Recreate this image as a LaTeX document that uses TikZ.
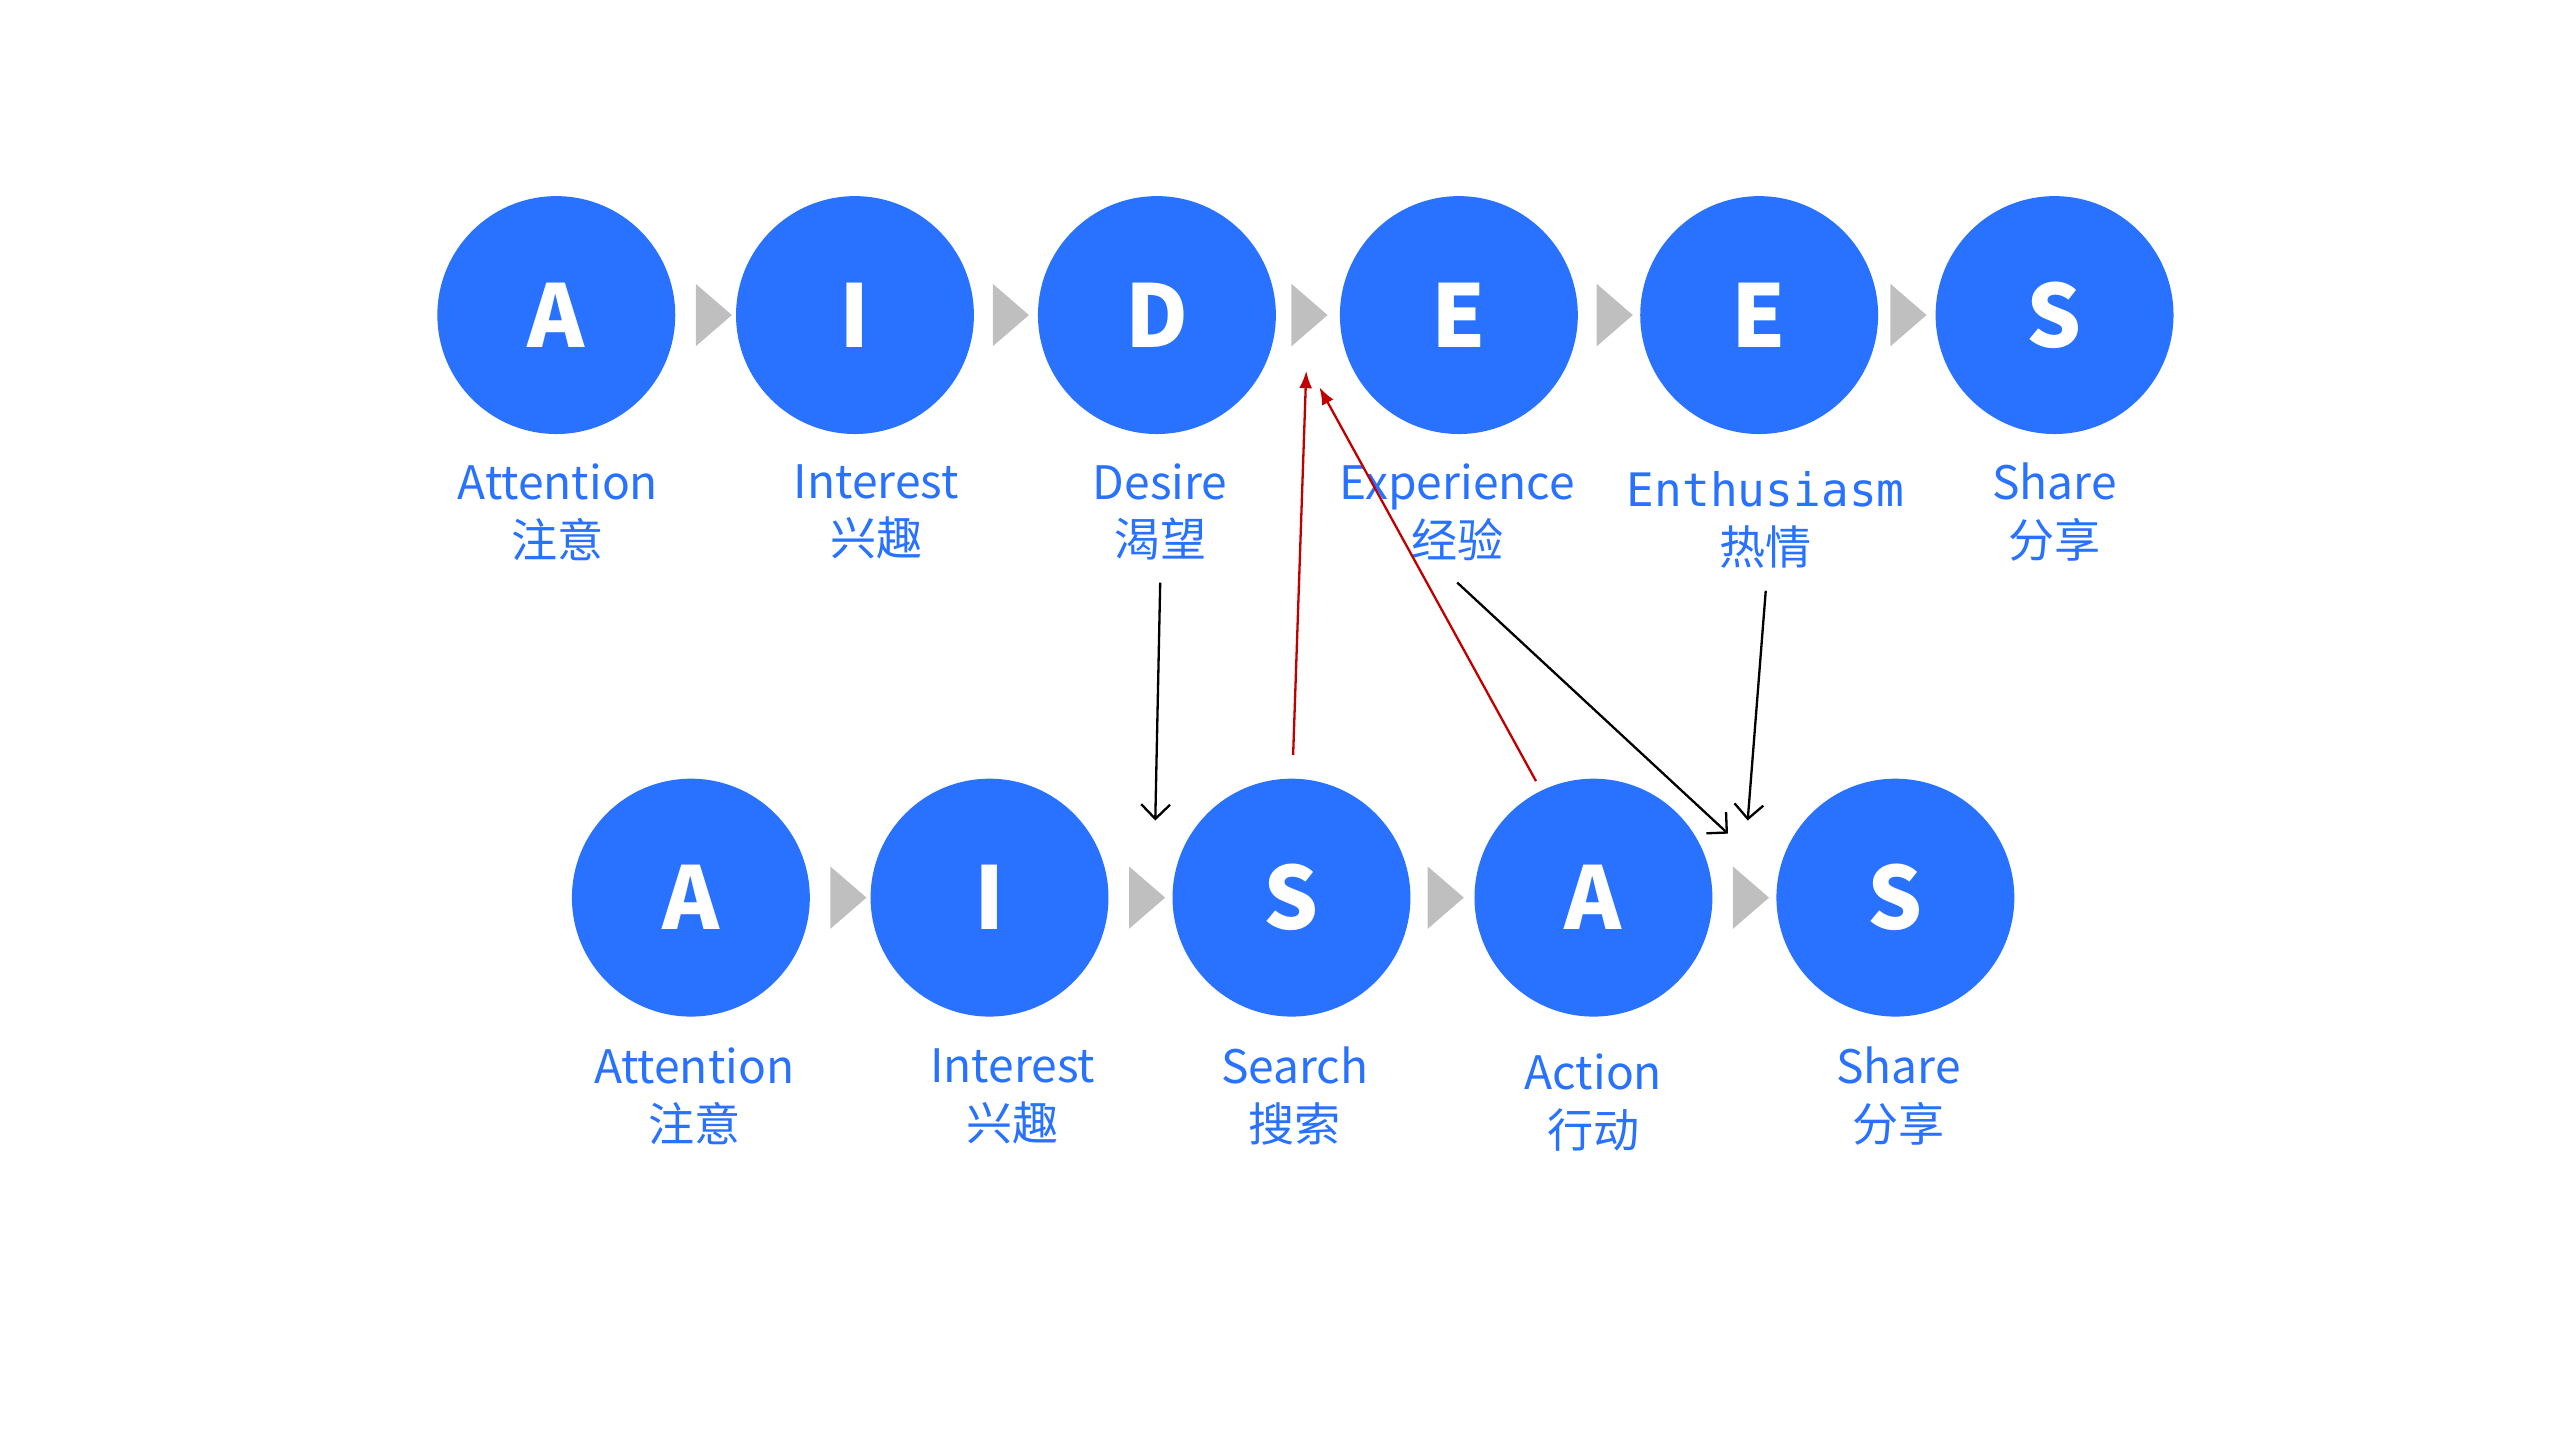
\documentclass[tikz,border=0pt]{standalone}
\usepackage{fontspec}
\setmainfont{Noto Sans CJK SC}
\newfontfamily\monof{DejaVu Sans Mono}
\usetikzlibrary{arrows.meta}
\definecolor{bl}{HTML}{2872FF}
\definecolor{gr}{HTML}{BFBFBF}
\definecolor{rd}{HTML}{C00000}
\begin{document}
\begin{tikzpicture}[x=0.02cm,y=-0.02cm,
  circ/.style={circle,fill=bl,minimum size=2.9cm,inner sep=0pt,text=white,font=\bfseries\fontsize{30}{30}\selectfont},
  lbl/.style={text=bl,align=center,font=\fontsize{16}{20}\selectfont},
  tri/.style={fill=gr,draw=none},
  blk/.style={-{Straight Barb[length=5pt]},thick,black},
  red/.style={-{Latex[length=6pt]},thick,rd}]
\useasboundingbox (0,0) rectangle (1560,878);
\foreach \x/\t/\n in {339/A/t1,521/I/t2,705/D/t3,889/E/t4,1072/E/t5,1252/S/t6}
  \node[circ] (\n) at (\x,192) {\t};
\foreach \x/\t/\n in {421/A/b1,603/I/b2,787/S/b3,971/A/b4,1155/S/b5}
  \node[circ] (\n) at (\x,547) {\t};
\foreach \x in {434,615,797,983,1162}
  \fill[tri] (\x-10,173) -- (\x+12,192) -- (\x-10,211) -- cycle;
\foreach \x in {516,698,880,1066}
  \fill[tri] (\x-10,528) -- (\x+12,547) -- (\x-10,566) -- cycle;
\node[lbl] (l1) at (340,312) {Attention\\注意};
\node[lbl] (l2) at (534,312) {Interest\\兴趣};
\node[lbl] (l3) at (707,312) {Desire\\渴望};
\node[lbl] (l4) at (888,312) {Experience\\经验};
\node[lbl] (l5) at (1076,317) {{\monof Enthusiasm}\\热情};
\node[lbl] (l6) at (1252,312) {Share\\分享};
\node[lbl] (m1) at (423,668) {Attention\\注意};
\node[lbl] (m2) at (617,668) {Interest\\兴趣};
\node[lbl] (m3) at (789,668) {Search\\搜索};
\node[lbl] (m4) at (971,672) {Action\\行动};
\node[lbl] (m5) at (1157,668) {Share\\分享};
\coordinate (a1) at (707,355); \coordinate (a2) at (704,500);
\coordinate (c1) at (888,355); \coordinate (c2) at (1053,508);
\coordinate (d1) at (1076,360); \coordinate (d2) at (1065,500);
\coordinate (r1) at (788,460); \coordinate (r2) at (796,226);
\coordinate (s1) at (936,476); \coordinate (s2) at (804,236);
\draw[blk] (a1) -- (a2);
\draw[blk] (c1) -- (c2);
\draw[blk] (d1) -- (d2);
\draw[red] (r1) -- (r2);
\draw[red] (s1) -- (s2);
\end{tikzpicture}
\end{document}
